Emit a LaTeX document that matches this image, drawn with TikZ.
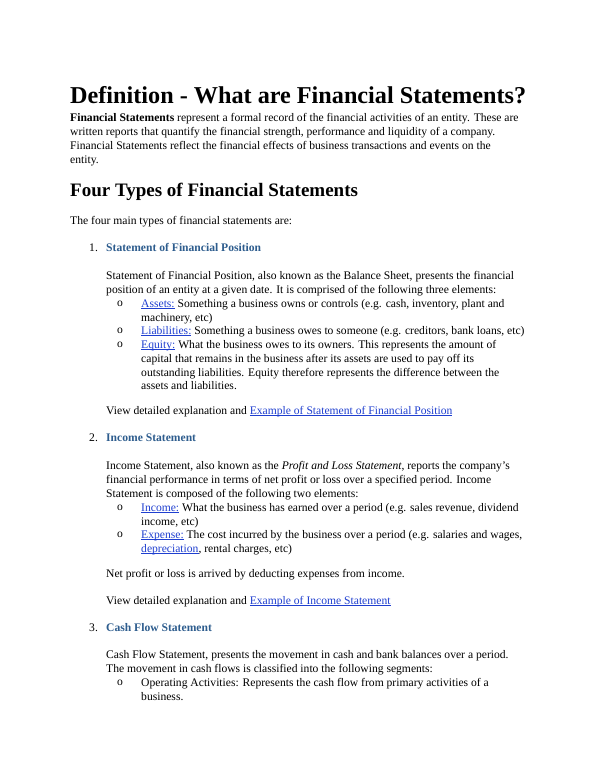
\documentclass[tikz,border=0pt]{standalone}
\usepackage{fontspec}
\setmainfont{Liberation Serif}
\definecolor{head}{HTML}{2E5D8E}
\definecolor{lnk}{HTML}{1F3FD0}
\newcommand{\lk}[1]{\textcolor{lnk}{\setbox0\hbox{#1}\rlap{\rule[-1.6pt]{\wd0}{0.5pt}}\box0}}
\begin{document}
\begin{tikzpicture}[x=1pt,y=-1pt,
 t/.style={anchor=base west,inner sep=0pt,font=\fontsize{11.6}{14}\selectfont},
 h1/.style={anchor=base west,inner sep=0pt,font=\fontsize{24.2}{30}\selectfont\bfseries},
 h2/.style={anchor=base west,inner sep=0pt,font=\fontsize{19}{22}\selectfont\bfseries},
 hd/.style={t,text=head,font=\fontsize{11.6}{14}\selectfont\bfseries}]
\useasboundingbox[fill=white] (0,0) rectangle (600,776);
\node[h1] (title) at (70,103) {Definition - What are Financial Statements?};
\node[t] (p1) at (70,121) {\textbf{Financial Statements} represent a formal record of the financial activities of an entity. These are};
\node[t] (p2) at (70,135) {written reports that quantify the financial strength, performance and liquidity of a company.};
\node[t] (p3) at (70,149) {Financial Statements reflect the financial effects of business transactions and events on the};
\node[t] (p4) at (70,163) {entity.};
\node[h2] (four) at (70,196) {Four Types of Financial Statements};
\node[t] (main) at (70,224) {The four main types of financial statements are:};
\node[t] (n1) at (89,251) {1.};
\node[hd] (h1) at (106,251) {Statement of Financial Position};
\node[t] (a1) at (106,279) {Statement of Financial Position, also known as the Balance Sheet, presents the financial};
\node[t] (a2) at (106,293) {position of an entity at a given date. It is comprised of the following three elements:};
\node[t] (o1) at (117,306) {o};
\node[t] (b1) at (141,307) {\lk{Assets:} Something a business owns or controls (e.g. cash, inventory, plant and};
\node[t] (b2) at (141,321) {machinery, etc)};
\node[t] (o2) at (117,333) {o};
\node[t] (b3) at (141,334) {\lk{Liabilities:} Something a business owes to someone (e.g. creditors, bank loans, etc)};
\node[t] (o3) at (117,347) {o};
\node[t] (b4) at (141,348) {\lk{Equity:} What the business owes to its owners. This represents the amount of};
\node[t] (b5) at (141,362) {capital that remains in the business after its assets are used to pay off its};
\node[t] (b6) at (141,376) {outstanding liabilities. Equity therefore represents the difference between the};
\node[t] (b7) at (141,389) {assets and liabilities.};
\node[t] (v1) at (106,414) {View detailed explanation and \lk{Example of Statement of Financial Position}};
\node[t] (n2) at (89,441) {2.};
\node[hd] (h2) at (106,441) {Income Statement};
\node[t] (c1) at (106,469) {Income Statement, also known as the \textit{Profit and Loss Statement}, reports the company's};
\node[t] (c2) at (106,483) {financial performance in terms of net profit or loss over a specified period. Income};
\node[t] (c3) at (106,497) {Statement is composed of the following two elements:};
\node[t] (o4) at (117,510) {o};
\node[t] (d1) at (141,511) {\lk{Income:} What the business has earned over a period (e.g. sales revenue, dividend};
\node[t] (d2) at (141,525) {income, etc)};
\node[t] (o5) at (117,537) {o};
\node[t] (d3) at (141,538) {\lk{Expense:} The cost incurred by the business over a period (e.g. salaries and wages,};
\node[t] (d4) at (141,552) {\lk{depreciation}, rental charges, etc)};
\node[t] (np) at (106,577) {Net profit or loss is arrived by deducting expenses from income.};
\node[t] (v2) at (106,604) {View detailed explanation and \lk{Example of Income Statement}};
\node[t] (n3) at (89,631) {3.};
\node[hd] (h3) at (106,631) {Cash Flow Statement};
\node[t] (e1) at (106,658) {Cash Flow Statement, presents the movement in cash and bank balances over a period.};
\node[t] (e2) at (106,672) {The movement in cash flows is classified into the following segments:};
\node[t] (o6) at (117,685) {o};
\node[t] (f1) at (141,686) {Operating Activities: Represents the cash flow from primary activities of a};
\node[t] (f2) at (141,700) {business.};
\end{tikzpicture}
\end{document}
